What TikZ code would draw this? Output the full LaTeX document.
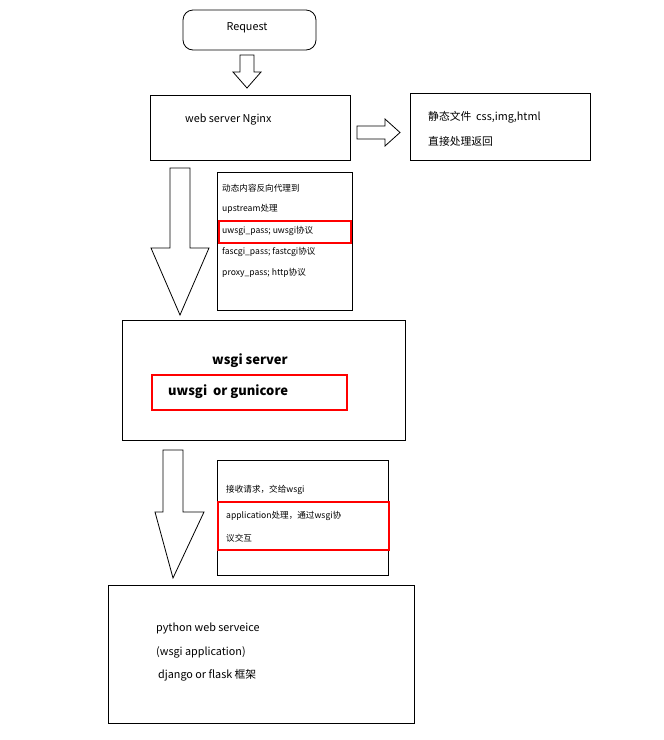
\documentclass[tikz,border=0pt]{standalone}
\usepackage{fontspec}
\setmainfont{Noto Sans CJK SC}
\begin{document}
\begin{tikzpicture}[x=1pt,y=-1pt,
  box/.style={draw,line width=0.8pt},
  redbox/.style={draw=red,line width=2pt},
  txt/.style={anchor=west,inner sep=0pt,font=\fontsize{10.8}{12}\selectfont},
  stxt/.style={anchor=west,inner sep=0pt,font=\fontsize{8.6}{10}\selectfont},
  btxt/.style={anchor=west,inner sep=0pt,font=\bfseries\fontsize{13}{14}\selectfont},
  arr/.style={draw,line width=0.8pt,fill=white}]
\useasboundingbox (0,0) rectangle (664,740);
% request
\draw[box,rounded corners=10pt] (183,10) rectangle (316,50);
\node[txt,anchor=center] (req) at (247,28) {Request};
\draw[arr] (240,55) -- (254,55) -- (254,72) -- (261,72) -- (247,88) -- (233,72) -- (240,72) -- cycle;
% nginx
\draw[box] (150,95) rectangle (350,160);
\node[txt] (ng) at (185,120) {web server Nginx};
\draw[arr] (357,126) -- (385,126) -- (385,119) -- (400,132.5) -- (385,146) -- (385,139) -- (357,139) -- cycle;
\draw[box] (410,93) rectangle (590,160);
\node[txt] (st1) at (428,117) {静态文件\ \ css,img,html};
\node[txt] (st2) at (428,141) {直接处理返回};
% big arrow 1
\draw[arr] (170,168) -- (190,168) -- (190,248) -- (209,248) -- (180,315) -- (151,248) -- (170,248) -- cycle;
\draw[box] (217,172) rectangle (352,310);
\node[stxt] at (222,188) {动态内容反向代理到};
\node[stxt] at (222,209) {upstream处理};
\node[stxt] at (222,231) {uwsgi\_pass; uwsgi协议};
\draw[redbox] (219,221) rectangle (351,243);
\node[stxt] at (222,252) {fascgi\_pass; fastcgi协议};
\node[stxt] at (222,273) {proxy\_pass; http协议};
% wsgi server
\draw[box] (122,320) rectangle (405,440);
\node[btxt] at (212,361) {wsgi server};
\draw[redbox] (152,375) rectangle (347,410);
\node[btxt] at (168,392) {uwsgi\ \ or gunicore};
% arrow 2
\draw[arr] (163,450) -- (183,450) -- (183,512) -- (204,512) -- (173,578) -- (155,512) -- (163,512) -- cycle;
\draw[box] (217,460) rectangle (388,575);
\node[stxt] at (226,490) {接收请求，交给wsgi};
\node[stxt] at (226,516) {application处理，通过wsgi协};
\node[stxt] at (226,538) {议交互};
\draw[redbox] (218,502) rectangle (389,550);
% bottom
\draw[box] (108,585) rectangle (414,723);
\node[txt] at (156,628) {python web serveice};
\node[txt] at (156,652) {(wsgi application)};
\node[txt] at (158,675) {django or flask 框架};
\end{tikzpicture}
\end{document}
